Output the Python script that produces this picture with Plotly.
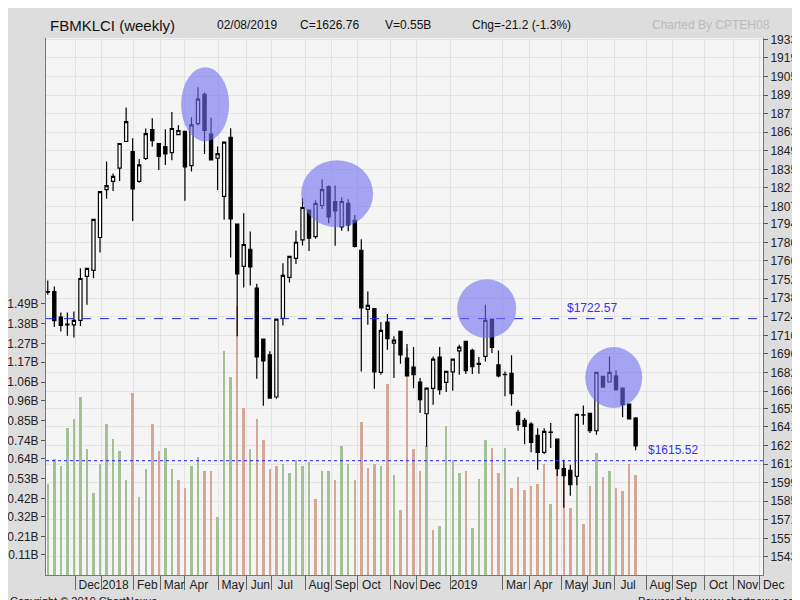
import plotly.graph_objects as go

idx = list(range(91))
opens = [1743,1743,1723.7,1718.5,1717.9,1721.2,1754.4,1758.9,1783.7,1819.8,1825.9,1835.9,1856,1848.4,1825.9,1843.2,1865,1854.5,1852.2,1847.7,1861.2,1863.7,1837.9,1869.5,1891.6,1861.5,1843.4,1814.6,1859.2,1793.7,1761.9,1774.7,1745.5,1707.1,1695.3,1663.5,1722.7,1753.6,1767.9,1781.9,1804.3,1784.4,1807.8,1822.1,1810.8,1791.7,1809.5,1796.7,1774.1,1729.5,1730.2,1682,1720,1704.1,1713,1692.8,1686.1,1674.8,1650.9,1670,1693.6,1674.5,1682.5,1698.3,1705.4,1698.6,1688.8,1694.1,1722.2,1687.8,1680.6,1681.3,1652,1645.9,1643.1,1634.6,1621.8,1636.9,1631.7,1609.6,1608.3,1603.8,1649.9,1651.2,1638.1,1679,1674.8,1679.3,1670.2,1658.2,1647.7]
highs = [1751.3,1746.8,1727.2,1727.2,1728,1760.6,1760.6,1797.3,1818.3,1841,1832,1854.5,1881.6,1858.5,1842.9,1865.8,1873.5,1854.5,1865.2,1878.3,1868.3,1863.7,1874.3,1896.9,1893,1874,1852.2,1855.5,1866,1793.7,1802,1788.2,1748.8,1707.1,1697.9,1722.2,1764.3,1769.4,1788.7,1813.3,1804.3,1811.8,1827.4,1822.9,1822.9,1813.8,1812.5,1800.7,1782.4,1743,1730.2,1720,1726,1709.2,1713,1703.4,1701.1,1677.8,1670.2,1694.1,1701.1,1682.8,1692.1,1702.8,1705.4,1699.8,1693.6,1733,1722.2,1698.6,1682.8,1694.9,1653.9,1647.6,1644.4,1640,1640,1643.9,1631.7,1616.2,1612.5,1650.4,1657.2,1651.2,1682,1679.5,1694.1,1683.6,1670.2,1658.2,1648.4]
lows = [1740.5,1716.2,1712.9,1709.6,1708.4,1717,1733,1753,1772.4,1812.8,1818.8,1826.3,1856,1796.2,1825,1842.1,1852.2,1834.6,1838.4,1841.9,1861.2,1811.3,1833.4,1868,1846.6,1842.1,1819.5,1797,1768.6,1709.2,1746,1747.6,1677.3,1657,1662.7,1662.2,1717.4,1749.8,1763.8,1777.7,1773.6,1782.7,1805.2,1794.5,1777.4,1788.7,1788.4,1776.2,1682.8,1717.9,1669.7,1680.3,1699.1,1677.8,1688.5,1679,1670.2,1651.4,1626,1657.7,1665.2,1667.2,1668.2,1680.3,1680.8,1680.8,1681,1690.3,1696.6,1678.3,1664,1657,1638.1,1628,1621.8,1608.7,1620.5,1625,1604,1580,1589.1,1597,1642.6,1636.4,1635,1671,1674.8,1668.2,1648.2,1647.1,1623.3]
closes = [1742.5,1721,1717.4,1717.9,1721.2,1752.8,1760.4,1797.3,1818.3,1822.8,1829.7,1854.5,1871,1820.3,1838.4,1862,1856.7,1844.7,1846.6,1865.8,1864.3,1836.9,1868.5,1888,1864.3,1842.1,1846.9,1855.5,1797.7,1756.3,1778.4,1761.6,1693.8,1690.8,1662.7,1722.2,1755.1,1769.4,1780.1,1806.3,1783.2,1809.3,1819.8,1799.2,1803.7,1810.8,1793.2,1776.9,1730.7,1732.5,1682.5,1713.7,1707.4,1706.3,1695.3,1679.5,1680.3,1661.5,1670.2,1692.1,1669,1682.8,1692.1,1701.1,1683.3,1686.3,1688,1721.2,1700.9,1679.5,1680.3,1666,1642.6,1641.4,1629.3,1621.8,1637.6,1637,1609.6,1604.2,1597.4,1650.4,1650.1,1638.1,1682,1671,1682,1669,1657.7,1647.1,1626.76]
volumes = [0.50,0.64,0.60,0.81,0.86,0.98,0.69,0.45,0.61,0.83,0.75,0.68,0.52,1.00,0.43,0.58,0.83,0.68,0.70,0.58,0.52,0.48,0.60,0.65,0.57,0.57,0.32,1.23,1.09,1.48,0.92,0.69,0.86,0.74,0.58,0.60,0.61,0.56,0.63,0.60,0.62,0.42,0.57,0.57,0.52,0.71,0.61,0.52,0.84,0.59,0.61,0.60,1.05,0.55,0.36,1.25,0.69,0.57,0.71,0.25,0.27,0.82,0.63,0.56,0.57,0.26,0.53,0.74,0.70,0.56,0.70,0.48,0.54,0.47,0.49,0.50,0.61,0.39,0.63,0.61,0.37,0.63,0.28,0.49,0.67,0.54,0.57,0.48,0.46,0.61,0.55]
vol_up = "gggggggggggggrggrrggrrggrrgggrrgrrrrgggggrggrggrrrrgrgrrrrgrggggrgggrrgrrrrrrgrrrgrrgrgrrrr"
month_pos = [4.2,8.2,13.1,17.2,21,26.2,30.4,34.2,39.4,43.4,47.4,52.4,56.4,61.6,69.6,73.7,78.7,82.7,86.7,91.6,95.6,100.5,105,109]
month_labels = ["Dec","2018","Feb","Mar","Apr","May","Jun","Jul","Aug","Sep","Oct","Nov","Dec","2019","Mar","Apr","May","Jun","Jul","Aug","Sep","Oct","Nov","Dec"]
price_ticks = [1543,1557,1571,1585,1599,1613,1627,1641,1655,1668,1682,1696,1710,1724,1738,1752,1766,1780,1794,1807,1821,1835,1849,1863,1877,1891,1905,1919,1933]
vol_ticks = [0.11,0.21,0.32,0.42,0.53,0.64,0.74,0.85,0.96,1.06,1.17,1.27,1.38,1.49]
levels = [1722.57, 1615.52]

vcol = ["#a3c096" if c == "g" else "#d4a896" for c in vol_up]

fig = go.Figure()
fig.add_trace(go.Bar(x=idx, y=volumes, marker_color=vcol, marker_line_width=0, width=0.38, yaxis="y", showlegend=False))
fig.add_trace(go.Candlestick(x=idx, open=opens, high=highs, low=lows, close=closes, yaxis="y2",
    increasing=dict(fillcolor="white", line=dict(color="black", width=1.2)),
    decreasing=dict(fillcolor="black", line=dict(color="black", width=1.2)),
    whiskerwidth=0, showlegend=False))

for lv, dash in [(levels[0], "dash"), (levels[1], "dot")]:
    fig.add_shape(type="line", xref="paper", x0=0, x1=1, yref="y2", y0=lv, y1=lv,
                  line=dict(color="#2222ee", width=1, dash=dash))

def px2i(px): return (px - 39.7) / 6.53
def py2p(py): return 1933 - (py - 31) * 0.7529
for cx, cy, rx, ry in [(197, 96, 24, 37), (329, 185.5, 36, 33.5), (478.5, 300.5, 29.5, 29.5), (605.5, 369.5, 28.5, 30.5)]:
    fig.add_shape(type="circle", xref="x", yref="y2", x0=px2i(cx - rx), x1=px2i(cx + rx),
                  y0=py2p(cy + ry), y1=py2p(cy - ry), fillcolor="rgba(110,110,240,0.6)", line_width=0, layer="above")

for t, lv, lx in [("$1722.57", levels[0], 557), ("$1615.52", levels[1], 638)]:
    fig.add_annotation(text=t, xref="x", yref="y2", x=px2i(lx), y=lv, xanchor="left", yanchor="bottom", yshift=2,
                       showarrow=False, font=dict(color="#3333ee", size=12))

hdr = [("FBMKLCI (weekly)", 40, 15, "#111"), ("02/08/2019", 207, 12, "#111"), ("C=1626.76", 290, 12, "#111"),
       ("V=0.55B", 375, 12, "#111"), ("Chg=-21.2 (-1.3%)", 462, 12, "#111"), ("Charted By CPTEH08", 642, 12, "#bbbbbb")]
for t, x, s, c in hdr:
    fig.add_annotation(text=t, xref="paper", yref="paper", x=(x - 38) / 717, y=1, yshift=13, xanchor="left",
                       yanchor="middle", showarrow=False, font=dict(size=s, color=c))
fig.add_annotation(text="Copyright © 2019 ChartNexus", xref="paper", yref="paper", x=-38/717, y=0, yshift=-26,
                   xanchor="left", yanchor="middle", showarrow=False, font=dict(size=11, color="#111"))
fig.add_annotation(text="Powered by www.chartnexus.com", xref="paper", yref="paper", x=(797 - 38) / 717, y=0, yshift=-26,
                   xanchor="right", yanchor="middle", showarrow=False, font=dict(size=11, color="#111"))

fig.update_layout(
    width=800, height=600, margin=dict(l=38, r=45, t=30, b=33, autoexpand=False),
    paper_bgcolor="#dddddd", plot_bgcolor="#f5f5f5",
    font=dict(family="Liberation Sans, Arial", size=12, color="#222"),
    bargap=0,
    xaxis=dict(range=[-0.27, 109.5], tickvals=month_pos, ticktext=month_labels, ticks="outside", ticklen=14,
               tickangle=0, automargin=False,
               tickcolor="#666", ticklabelshift=14, ticklabelstandoff=-15, showgrid=True, gridcolor="#e3e3e3",
               rangeslider=dict(visible=False), showline=True, linecolor="#777", zeroline=False),
    yaxis=dict(range=[0, 2.952], tickvals=vol_ticks, ticktext=[f"{v:.2f}B" for v in vol_ticks], side="left",
               showgrid=False, ticks="outside", ticklen=4, tickcolor="#555", showline=True, linecolor="#777",
               zeroline=False, automargin=False),
    yaxis2=dict(range=[1529.4, 1934], overlaying="y", side="right", tickvals=price_ticks, automargin=False,
                ticktext=[str(p) for p in price_ticks], showgrid=True, gridcolor="#e3e3e3", ticks="outside",
                ticklen=4, tickcolor="#555", showline=True, linecolor="#777", zeroline=False),
)
fig.write_html("out.html")
